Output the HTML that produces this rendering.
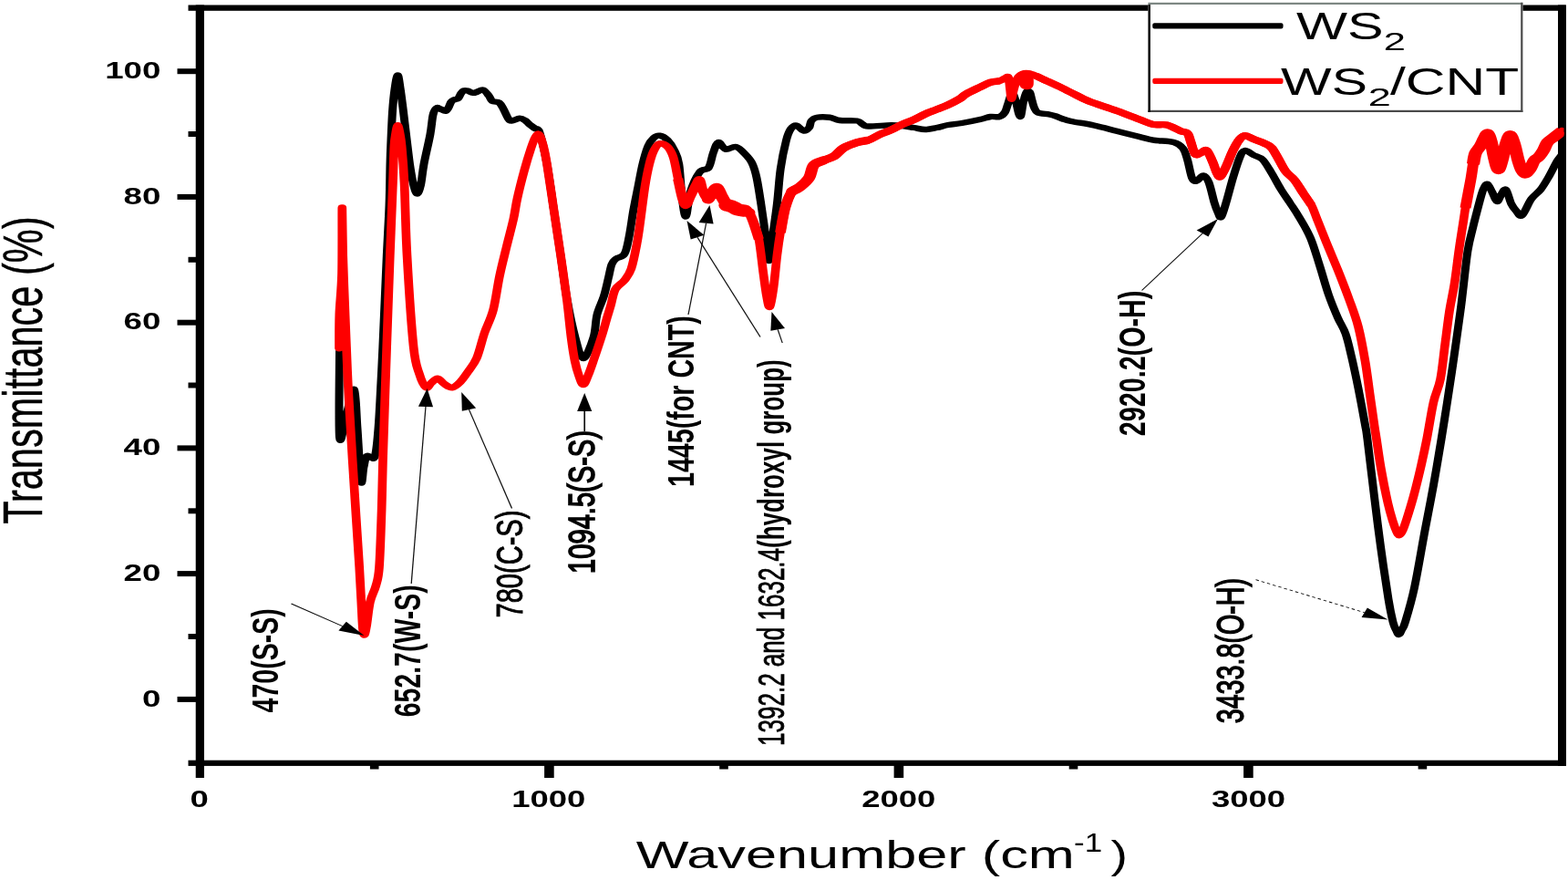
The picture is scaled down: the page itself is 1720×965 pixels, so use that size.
<!DOCTYPE html>
<html lang="en">
<head>
<meta charset="utf-8">
<title>FTIR spectra of WS2 and WS2/CNT</title>
<style>html,body{margin:0;padding:0;background:#fff;}body{width:1720px;height:965px;overflow:hidden;}svg{display:block;}</style>
</head>
<body>
<svg width="1720" height="965" viewBox="0 0 1720 965" role="img" aria-label="FTIR transmittance spectra of WS2 and WS2/CNT">
<rect x="0" y="0" width="1720" height="965" fill="#fff"/>
<g fill="#000">
<rect x="214.7" y="5.5" width="9.2" height="847.5"/>
<rect x="206.5" y="5.5" width="1511" height="6.3"/>
<rect x="206.5" y="833.7" width="1511" height="6.2"/>
<rect x="1709" y="5.5" width="9" height="834.4"/>
<rect x="194.5" y="75.2" width="21" height="6.0"/>
<rect x="194.5" y="212.9" width="21" height="6.0"/>
<rect x="194.5" y="350.7" width="21" height="6.0"/>
<rect x="194.5" y="488.4" width="21" height="6.0"/>
<rect x="194.5" y="626.1" width="21" height="6.0"/>
<rect x="194.5" y="763.9" width="21" height="6.0"/>
<rect x="206.5" y="144.0" width="9" height="6.0"/>
<rect x="206.5" y="281.8" width="9" height="6.0"/>
<rect x="206.5" y="419.5" width="9" height="6.0"/>
<rect x="206.5" y="557.3" width="9" height="6.0"/>
<rect x="206.5" y="695.0" width="9" height="6.0"/>
<rect x="597.1" y="838" width="10.6" height="15"/>
<rect x="980.6" y="838" width="10.6" height="15"/>
<rect x="1364.1" y="838" width="10.6" height="15"/>
<rect x="405.9" y="838" width="9.6" height="5.5"/>
<rect x="789.2" y="838" width="9.6" height="5.5"/>
<rect x="1172.7" y="838" width="9.6" height="5.5"/>
<rect x="1555.6" y="838" width="9.6" height="5.5"/>
</g>
<defs><clipPath id="plotclip"><rect x="214" y="5" width="1501.5" height="835"/></clipPath></defs>
<g clip-path="url(#plotclip)"><g transform="scale(1.4 1)" fill="none" stroke-linejoin="round" stroke-linecap="round">
<path d="M266.07 385.00C266.07 400.83 265.18 468.33 266.07 480.00C266.96 491.67 269.52 463.83 271.43 455.00C273.33 446.17 276.07 424.50 277.50 427.00C278.93 429.50 279.11 453.17 280.00 470.00C280.89 486.83 282.02 521.00 282.86 528.00C283.69 535.00 284.23 516.67 285.00 512.00C285.77 507.33 286.07 501.83 287.50 500.00C288.93 498.17 292.08 506.00 293.57 501.00C295.06 496.00 295.61 483.50 296.43 470.00C297.25 456.50 297.92 435.00 298.50 420.00C299.08 405.00 299.17 403.33 299.93 380.00C300.69 356.67 302.23 305.83 303.07 280.00C303.92 254.17 304.56 241.67 305.00 225.00C305.44 208.33 305.51 190.83 305.71 180.00C305.92 169.17 305.92 169.58 306.21 160.00C306.51 150.42 306.99 132.92 307.50 122.50C308.01 112.08 308.60 104.17 309.29 97.50C309.97 90.83 310.87 82.50 311.61 82.50C312.35 82.50 312.97 90.83 313.71 97.50C314.46 104.17 315.14 112.08 316.07 122.50C317.00 132.92 318.45 150.42 319.29 160.00C320.12 169.58 320.36 173.33 321.07 180.00C321.79 186.67 322.64 194.58 323.57 200.00C324.50 205.42 325.63 212.00 326.64 212.50C327.65 213.00 328.73 208.42 329.64 203.00C330.56 197.58 330.90 189.25 332.14 180.00C333.38 170.75 335.88 156.50 337.07 147.50C338.26 138.50 338.47 130.83 339.29 126.00C340.10 121.17 341.01 119.58 341.96 118.50C342.92 117.42 343.81 118.93 345.00 119.50C346.19 120.07 348.04 122.15 349.11 121.90C350.18 121.65 350.68 119.73 351.43 118.00C352.17 116.27 352.80 112.97 353.57 111.50C354.35 110.03 355.18 109.78 356.07 109.20C356.96 108.62 358.08 109.12 358.93 108.00C359.77 106.88 360.40 103.93 361.14 102.50C361.89 101.07 362.51 99.88 363.39 99.40C364.27 98.92 365.24 99.18 366.43 99.60C367.62 100.02 369.23 101.75 370.54 101.90C371.85 102.05 372.95 101.07 374.29 100.50C375.63 99.93 377.11 97.75 378.57 98.50C380.03 99.25 381.85 102.92 383.04 105.00C384.23 107.08 384.38 109.75 385.71 111.00C387.05 112.25 389.58 111.00 391.07 112.50C392.56 114.00 393.45 117.08 394.64 120.00C395.83 122.92 397.17 127.92 398.21 130.00C399.26 132.08 399.40 132.53 400.89 132.50C402.38 132.47 405.39 129.88 407.14 129.80C408.90 129.72 410.12 130.87 411.43 132.00C412.74 133.13 413.69 135.10 415.00 136.60C416.31 138.10 417.98 139.53 419.29 141.00C420.60 142.47 421.31 138.90 422.86 145.40C424.40 151.90 426.73 165.90 428.57 180.00C430.42 194.10 432.14 213.33 433.93 230.00C435.71 246.67 437.56 263.67 439.29 280.00C441.01 296.33 442.38 313.00 444.29 328.00C446.19 343.00 448.60 359.17 450.71 370.00C452.83 380.83 454.62 393.00 457.00 393.00C459.38 393.00 463.19 378.03 465.00 370.00C466.81 361.97 466.50 352.33 467.86 344.80C469.21 337.27 471.67 331.47 473.14 324.80C474.62 318.13 475.69 310.63 476.71 304.80C477.74 298.97 478.26 293.33 479.29 289.80C480.31 286.27 481.19 285.47 482.86 283.60C484.52 281.73 487.62 282.53 489.29 278.60C490.95 274.67 491.68 268.10 492.86 260.00C494.04 251.90 495.18 239.17 496.36 230.00C497.54 220.83 498.74 213.33 499.93 205.00C501.12 196.67 502.18 187.50 503.50 180.00C504.82 172.50 506.38 164.83 507.86 160.00C509.33 155.17 510.86 152.88 512.36 151.00C513.86 149.12 515.07 148.25 516.86 148.70C518.64 149.15 521.14 150.98 523.07 153.70C525.00 156.42 526.94 160.62 528.43 165.00C529.92 169.38 531.02 171.67 532.00 180.00C532.98 188.33 533.39 205.43 534.29 215.00C535.18 224.57 536.23 238.23 537.36 237.40C538.49 236.57 539.26 218.12 541.07 210.00C542.88 201.88 545.85 193.08 548.21 188.70C550.58 184.32 553.51 187.23 555.29 183.70C557.06 180.17 557.60 172.12 558.86 167.50C560.12 162.88 561.24 156.63 562.86 156.00C564.48 155.37 566.26 162.87 568.57 163.70C570.88 164.53 574.17 160.12 576.71 161.00C579.26 161.88 581.76 166.00 583.86 169.00C585.95 172.00 587.79 174.67 589.29 179.00C590.79 183.33 591.67 187.33 592.86 195.00C594.05 202.67 595.24 214.17 596.43 225.00C597.62 235.83 598.98 249.83 600.00 260.00C601.02 270.17 601.69 286.00 602.57 286.00C603.45 286.00 604.23 270.58 605.29 260.00C606.35 249.42 607.88 235.00 608.93 222.50C609.98 210.00 610.42 196.46 611.61 185.00C612.80 173.54 614.73 161.04 616.07 153.75C617.41 146.46 618.30 143.96 619.64 141.25C620.98 138.54 622.47 137.12 624.11 137.50C625.74 137.88 627.83 143.08 629.46 143.50C631.10 143.92 632.89 141.83 633.93 140.00C634.97 138.17 634.67 134.38 635.71 132.50C636.76 130.62 637.80 129.38 640.18 128.75C642.56 128.12 647.02 128.21 650.00 128.75C652.98 129.29 654.46 131.38 658.04 132.00C661.61 132.62 668.45 131.79 671.43 132.50C674.40 133.21 674.40 135.25 675.89 136.25C677.38 137.25 676.64 138.34 680.36 138.50C684.08 138.66 693.75 137.28 698.21 137.20C702.68 137.12 704.17 137.53 707.14 138.00C710.12 138.47 713.10 139.33 716.07 140.00C719.05 140.67 722.02 142.00 725.00 142.00C727.98 142.00 730.95 140.83 733.93 140.00C736.90 139.17 739.58 137.83 742.86 137.00C746.13 136.17 749.40 136.00 753.57 135.00C757.74 134.00 764.11 132.17 767.86 131.00C771.61 129.83 773.52 128.50 776.07 128.00C778.62 127.50 781.25 128.83 783.14 128.00C785.04 127.17 786.35 125.25 787.43 123.00C788.51 120.75 788.74 118.00 789.64 114.50C790.55 111.00 791.85 102.75 792.86 102.00C793.87 101.25 794.64 105.67 795.71 110.00C796.79 114.33 798.27 127.67 799.29 128.00C800.30 128.33 800.95 116.50 801.79 112.00C802.62 107.50 803.45 102.83 804.29 101.00C805.12 99.17 806.07 99.50 806.79 101.00C807.50 102.50 807.98 107.17 808.57 110.00C809.17 112.83 809.58 115.75 810.36 118.00C811.13 120.25 811.25 122.25 813.21 123.50C815.18 124.75 819.76 124.83 822.14 125.50C824.52 126.17 825.71 126.67 827.50 127.50C829.29 128.33 830.89 129.58 832.86 130.50C834.82 131.42 835.24 131.83 839.29 133.00C843.33 134.17 851.19 135.72 857.14 137.50C863.10 139.28 869.05 141.62 875.00 143.70C880.95 145.78 888.10 148.33 892.86 150.00C897.62 151.67 899.11 152.70 903.57 153.70C908.04 154.70 915.77 154.53 919.64 156.00C923.51 157.47 925.00 159.33 926.79 162.50C928.57 165.67 929.17 169.58 930.36 175.00C931.55 180.42 932.74 191.05 933.93 195.00C935.12 198.95 936.01 199.12 937.50 198.70C938.99 198.28 941.25 192.28 942.86 192.50C944.46 192.72 945.71 195.08 947.14 200.00C948.57 204.92 950.24 216.50 951.43 222.00C952.62 227.50 953.39 230.33 954.29 233.00C955.18 235.67 955.71 239.83 956.79 238.00C957.86 236.17 959.17 229.17 960.71 222.00C962.26 214.83 964.29 203.25 966.07 195.00C967.86 186.75 969.88 177.50 971.43 172.50C972.98 167.50 973.57 165.42 975.36 165.00C977.14 164.58 979.82 168.33 982.14 170.00C984.46 171.67 986.90 171.67 989.29 175.00C991.67 178.33 994.05 184.58 996.43 190.00C998.81 195.42 1001.19 202.08 1003.57 207.50C1005.95 212.92 1008.33 217.42 1010.71 222.50C1013.10 227.58 1015.18 231.58 1017.86 238.00C1020.54 244.42 1024.11 252.17 1026.79 261.00C1029.46 269.83 1031.55 280.58 1033.93 291.00C1036.31 301.42 1038.69 313.92 1041.07 323.50C1043.45 333.08 1046.01 341.42 1048.21 348.50C1050.42 355.58 1052.50 358.92 1054.29 366.00C1056.07 373.08 1057.26 381.00 1058.93 391.00C1060.60 401.00 1062.50 413.50 1064.29 426.00C1066.07 438.50 1068.45 456.67 1069.64 466.00C1070.83 475.33 1070.24 468.92 1071.43 482.00C1072.62 495.08 1075.06 524.92 1076.79 544.50C1078.51 564.08 1079.94 580.75 1081.79 599.50C1083.63 618.25 1086.25 643.25 1087.86 657.00C1089.46 670.75 1090.42 676.33 1091.43 682.00C1092.44 687.67 1093.15 688.67 1093.93 691.00C1094.70 693.33 1095.36 696.00 1096.07 696.00C1096.79 696.00 1097.38 693.33 1098.21 691.00C1099.05 688.67 1099.40 689.75 1101.07 682.00C1102.74 674.25 1105.65 661.17 1108.21 644.50C1110.77 627.83 1113.93 600.75 1116.43 582.00C1118.93 563.25 1121.07 548.67 1123.21 532.00C1125.36 515.33 1127.50 497.17 1129.29 482.00C1131.07 466.83 1132.26 456.17 1133.93 441.00C1135.60 425.83 1137.56 407.67 1139.29 391.00C1141.01 374.33 1143.14 352.83 1144.29 341.00C1145.43 329.17 1145.19 331.00 1146.14 320.00C1147.10 309.00 1148.69 286.67 1150.00 275.00C1151.31 263.33 1152.96 256.25 1154.00 250.00C1155.04 243.75 1155.05 243.75 1156.21 237.50C1157.38 231.25 1159.82 218.00 1161.00 212.50C1162.18 207.00 1162.52 206.25 1163.29 204.50C1164.05 202.75 1164.57 200.92 1165.57 202.00C1166.57 203.08 1168.05 207.85 1169.29 211.00C1170.52 214.15 1171.81 220.57 1173.00 220.90C1174.19 221.23 1175.27 215.17 1176.43 213.00C1177.58 210.83 1178.65 206.17 1179.93 207.90C1181.20 209.63 1182.75 219.55 1184.07 223.40C1185.39 227.25 1186.46 228.83 1187.86 231.00C1189.25 233.17 1190.44 238.52 1192.43 236.40C1194.42 234.28 1197.33 223.05 1199.79 218.30C1202.24 213.55 1204.85 212.00 1207.14 207.90C1209.44 203.80 1211.43 198.88 1213.57 193.70C1215.71 188.52 1218.33 180.75 1220.00 176.80C1221.67 172.85 1222.98 171.13 1223.57 170.00" stroke="#000" stroke-width="6.4"/>
<path d="M265.71 382.00C265.75 375.83 265.57 358.67 265.93 345.00C266.29 331.33 267.50 319.50 267.86 300.00C268.21 280.50 267.93 231.33 268.07 228.00C268.21 224.67 268.39 263.00 268.71 280.00C269.04 297.00 269.55 313.33 270.00 330.00C270.45 346.67 270.99 365.00 271.43 380.00C271.87 395.00 272.17 406.67 272.64 420.00C273.12 433.33 273.69 445.83 274.29 460.00C274.88 474.17 275.44 487.50 276.21 505.00C276.99 522.50 278.04 545.50 278.93 565.00C279.82 584.50 280.88 606.17 281.57 622.00C282.26 637.83 282.62 648.67 283.07 660.00C283.52 671.33 283.85 684.00 284.29 690.00C284.73 696.00 285.20 696.83 285.71 696.00C286.23 695.17 286.64 691.00 287.36 685.00C288.07 679.00 288.81 667.10 290.00 660.00C291.19 652.90 293.31 648.73 294.50 642.40C295.69 636.07 296.39 635.73 297.14 622.00C297.89 608.27 298.52 579.50 299.00 560.00C299.48 540.50 299.33 535.00 300.00 505.00C300.67 475.00 302.07 417.50 303.00 380.00C303.93 342.50 304.76 310.00 305.57 280.00C306.38 250.00 307.31 220.00 307.86 200.00C308.40 180.00 308.46 169.17 308.86 160.00C309.25 150.83 309.75 148.75 310.21 145.00C310.68 141.25 311.15 137.50 311.64 137.50C312.13 137.50 312.63 141.25 313.14 145.00C313.65 148.75 314.11 150.83 314.71 160.00C315.32 169.17 316.08 180.00 316.79 200.00C317.49 220.00 317.73 250.00 318.93 280.00C320.13 310.00 322.39 358.33 324.00 380.00C325.61 401.67 326.93 402.50 328.57 410.00C330.21 417.50 332.31 423.33 333.86 425.00C335.40 426.67 336.36 421.67 337.86 420.00C339.36 418.33 341.14 414.83 342.86 415.00C344.57 415.17 346.24 419.33 348.14 421.00C350.05 422.67 352.19 425.38 354.29 425.00C356.38 424.62 358.63 421.62 360.71 418.70C362.80 415.78 364.64 411.87 366.79 407.50C368.93 403.13 371.43 399.58 373.57 392.50C375.71 385.42 377.50 373.75 379.64 365.00C381.79 356.25 384.46 350.38 386.43 340.00C388.39 329.62 389.67 314.37 391.43 302.70C393.19 291.03 395.18 280.45 397.00 270.00C398.82 259.55 400.96 248.77 402.36 240.00C403.75 231.23 403.96 226.17 405.36 217.40C406.75 208.63 408.93 196.55 410.71 187.40C412.50 178.25 414.58 168.73 416.07 162.50C417.56 156.27 418.57 152.50 419.64 150.00C420.71 147.50 421.49 145.83 422.50 147.50C423.51 149.17 424.70 154.58 425.71 160.00C426.73 165.42 427.20 168.33 428.57 180.00C429.94 191.67 432.14 213.33 433.93 230.00C435.71 246.67 437.56 263.33 439.29 280.00C441.01 296.67 442.92 315.00 444.29 330.00C445.65 345.00 446.49 359.08 447.50 370.00C448.51 380.92 449.35 388.50 450.36 395.50C451.37 402.50 452.46 407.62 453.57 412.00C454.68 416.38 455.81 421.80 457.00 421.80C458.19 421.80 459.38 416.38 460.71 412.00C462.05 407.62 463.10 403.27 465.00 395.50C466.90 387.73 470.36 373.32 472.14 365.40C473.93 357.48 474.64 353.10 475.71 348.00C476.79 342.90 477.50 339.92 478.57 334.80C479.64 329.68 480.36 321.88 482.14 317.30C483.93 312.72 487.21 311.05 489.29 307.30C491.36 303.55 492.95 301.45 494.57 294.80C496.19 288.15 497.81 276.13 499.00 267.40C500.19 258.67 500.67 252.80 501.71 242.40C502.76 232.00 504.11 215.40 505.29 205.00C506.46 194.60 507.61 186.67 508.79 180.00C509.96 173.33 511.01 168.75 512.36 165.00C513.70 161.25 515.07 158.17 516.86 157.50C518.64 156.83 521.29 158.50 523.07 161.00C524.86 163.50 526.21 166.67 527.57 172.50C528.93 178.33 530.01 188.42 531.21 196.00C532.42 203.58 533.74 213.17 534.79 218.00C535.83 222.83 536.45 225.50 537.50 225.00C538.55 224.50 539.74 218.77 541.07 215.00C542.40 211.23 544.31 205.33 545.50 202.40C546.69 199.47 547.32 196.13 548.21 197.40C549.11 198.67 549.75 206.48 550.86 210.00C551.96 213.52 553.63 218.33 554.86 218.50C556.08 218.67 557.05 213.08 558.21 211.00C559.38 208.92 560.61 205.17 561.86 206.00C563.11 206.83 564.38 212.83 565.71 216.00C567.05 219.17 568.43 223.17 569.86 225.00C571.29 226.83 572.85 226.17 574.29 227.00C575.73 227.83 577.07 229.33 578.50 230.00C579.93 230.67 581.48 230.50 582.86 231.00C584.24 231.50 585.51 230.73 586.79 233.00C588.06 235.27 589.20 239.70 590.50 244.60C591.80 249.50 593.30 253.17 594.57 262.40C595.85 271.63 597.12 289.60 598.14 300.00C599.17 310.40 599.88 318.72 600.71 324.80C601.55 330.88 602.24 338.17 603.14 336.50C604.05 334.83 605.19 324.22 606.14 314.80C607.10 305.38 607.98 289.97 608.86 280.00C609.74 270.03 610.38 263.67 611.43 255.00C612.48 246.33 613.66 235.50 615.18 228.00C616.70 220.50 618.60 213.83 620.54 210.00C622.47 206.17 624.55 207.50 626.79 205.00C629.02 202.50 632.14 198.96 633.93 195.00C635.71 191.04 635.71 184.38 637.50 181.25C639.29 178.12 641.96 177.92 644.64 176.25C647.32 174.58 650.89 173.54 653.57 171.25C656.25 168.96 657.74 165.00 660.71 162.50C663.69 160.00 668.15 157.71 671.43 156.25C674.70 154.79 677.38 155.21 680.36 153.75C683.33 152.29 686.31 149.38 689.29 147.50C692.26 145.62 695.24 144.38 698.21 142.50C701.19 140.62 704.17 138.12 707.14 136.25C710.12 134.38 713.10 133.12 716.07 131.25C719.05 129.38 722.02 126.88 725.00 125.00C727.98 123.12 730.95 121.67 733.93 120.00C736.90 118.33 739.88 116.92 742.86 115.00C745.83 113.08 749.40 110.50 751.79 108.50C754.17 106.50 754.46 105.15 757.14 103.00C759.82 100.85 764.70 97.72 767.86 95.60C771.01 93.48 773.52 91.43 776.07 90.30C778.62 89.17 781.25 89.55 783.14 88.80C785.04 88.05 786.26 86.43 787.43 85.80C788.60 85.17 789.48 82.97 790.14 85.00C790.81 87.03 791.04 94.08 791.43 98.00C791.82 101.92 792.02 108.50 792.50 108.50C792.98 108.50 793.51 101.75 794.29 98.00C795.06 94.25 795.95 88.83 797.14 86.00C798.33 83.17 800.00 81.92 801.43 81.00C802.86 80.08 804.05 80.17 805.71 80.50C807.38 80.83 809.61 82.00 811.43 83.00C813.25 84.00 813.07 84.17 816.64 86.50C820.21 88.83 827.44 93.33 832.86 97.00C838.27 100.67 845.10 105.83 849.14 108.50C853.19 111.17 852.83 110.83 857.14 113.00C861.45 115.17 869.05 118.50 875.00 121.50C880.95 124.50 888.10 128.50 892.86 131.00C897.62 133.50 900.00 135.50 903.57 136.50C907.14 137.50 910.71 135.80 914.29 137.00C917.86 138.20 922.32 142.20 925.00 143.70C927.68 145.20 929.05 144.12 930.36 146.00C931.67 147.88 931.85 151.17 932.86 155.00C933.87 158.83 935.06 166.92 936.43 169.00C937.80 171.08 939.56 168.17 941.07 167.50C942.58 166.83 944.01 163.42 945.50 165.00C946.99 166.58 948.65 172.83 950.00 177.00C951.35 181.17 952.54 187.22 953.57 190.00C954.61 192.78 955.02 194.95 956.21 193.70C957.40 192.45 959.07 187.28 960.71 182.50C962.36 177.72 964.29 170.00 966.07 165.00C967.86 160.00 969.82 155.22 971.43 152.50C973.04 149.78 973.93 148.70 975.71 148.70C977.50 148.70 978.99 150.62 982.14 152.50C985.30 154.38 991.67 157.08 994.64 160.00C997.62 162.92 997.92 165.42 1000.00 170.00C1002.08 174.58 1004.76 182.92 1007.14 187.50C1009.52 192.08 1011.90 193.33 1014.29 197.50C1016.67 201.67 1019.23 207.92 1021.43 212.50C1023.63 217.08 1025.71 220.25 1027.50 225.00C1029.29 229.75 1030.18 234.17 1032.14 241.00C1034.11 247.83 1036.61 256.83 1039.29 266.00C1041.96 275.17 1045.24 285.58 1048.21 296.00C1051.19 306.42 1054.46 318.08 1057.14 328.50C1059.82 338.92 1062.20 347.25 1064.29 358.50C1066.37 369.75 1068.15 383.92 1069.64 396.00C1071.13 408.08 1072.02 419.33 1073.21 431.00C1074.40 442.67 1075.89 457.50 1076.79 466.00C1077.68 474.50 1077.68 473.92 1078.57 482.00C1079.46 490.08 1080.65 502.83 1082.14 514.50C1083.63 526.17 1085.95 542.42 1087.50 552.00C1089.05 561.58 1090.30 566.83 1091.43 572.00C1092.56 577.17 1093.45 580.50 1094.29 583.00C1095.12 585.50 1095.65 587.17 1096.43 587.00C1097.20 586.83 1097.98 584.92 1098.93 582.00C1099.88 579.08 1100.71 575.75 1102.14 569.50C1103.57 563.25 1105.71 553.67 1107.50 544.50C1109.29 535.33 1111.13 524.92 1112.86 514.50C1114.58 504.08 1116.13 494.25 1117.86 482.00C1119.58 469.75 1121.43 452.00 1123.21 441.00C1125.00 430.00 1127.08 426.42 1128.57 416.00C1130.06 405.58 1130.95 391.00 1132.14 378.50C1133.33 366.00 1134.46 352.25 1135.71 341.00C1136.96 329.75 1138.39 322.25 1139.64 311.00C1140.89 299.75 1142.02 285.17 1143.21 273.50C1144.40 261.83 1145.95 248.58 1146.79 241.00C1147.62 233.42 1147.62 232.83 1148.21 228.00C1148.81 223.17 1149.62 217.50 1150.36 212.00C1151.10 206.50 1151.99 200.33 1152.64 195.00C1153.30 189.67 1153.71 184.50 1154.29 180.00C1154.86 175.50 1155.12 171.33 1156.07 168.00C1157.02 164.67 1158.87 162.67 1160.00 160.00C1161.13 157.33 1161.93 154.25 1162.86 152.00C1163.79 149.75 1164.68 146.00 1165.57 146.50C1166.46 147.00 1167.30 150.42 1168.21 155.00C1169.13 159.58 1170.12 168.83 1171.07 174.00C1172.02 179.17 1172.98 185.67 1173.93 186.00C1174.88 186.33 1175.77 180.67 1176.79 176.00C1177.80 171.33 1178.93 162.67 1180.00 158.00C1181.07 153.33 1182.14 148.00 1183.21 148.00C1184.29 148.00 1185.36 153.33 1186.43 158.00C1187.50 162.67 1188.63 171.17 1189.64 176.00C1190.65 180.83 1191.55 184.58 1192.50 187.00C1193.45 189.42 1194.29 190.83 1195.36 190.50C1196.43 190.17 1197.80 187.42 1198.93 185.00C1200.06 182.58 1201.01 178.17 1202.14 176.00C1203.27 173.83 1204.52 173.83 1205.71 172.00C1206.90 170.17 1208.15 167.67 1209.29 165.00C1210.42 162.33 1211.14 158.42 1212.50 156.00C1213.86 153.58 1215.54 152.58 1217.43 150.50C1219.32 148.42 1222.79 144.67 1223.86 143.50" stroke="#fe0000" stroke-width="6.9"/>
<path d="M531.21 196.00C531.81 199.67 533.74 213.17 534.79 218.00C535.83 222.83 536.45 225.50 537.50 225.00C538.55 224.50 539.74 218.77 541.07 215.00C542.40 211.23 544.31 205.33 545.50 202.40C546.69 199.47 547.32 196.13 548.21 197.40C549.11 198.67 549.75 206.48 550.86 210.00C551.96 213.52 553.63 218.33 554.86 218.50C556.08 218.67 557.05 213.08 558.21 211.00C559.38 208.92 560.61 205.17 561.86 206.00C563.11 206.83 564.38 212.83 565.71 216.00C567.05 219.17 568.43 223.17 569.86 225.00C571.29 226.83 572.85 226.17 574.29 227.00C575.73 227.83 577.07 229.33 578.50 230.00C579.93 230.67 581.48 230.50 582.86 231.00C584.24 231.50 585.51 230.73 586.79 233.00C588.06 235.27 589.20 239.70 590.50 244.60C591.80 249.50 593.89 259.43 594.57 262.40" stroke="#fe0000" stroke-width="8.0" stroke-linecap="butt"/>
<path d="M554.86 218.50C555.42 217.25 557.05 213.08 558.21 211.00C559.38 208.92 560.61 205.17 561.86 206.00C563.11 206.83 564.38 212.83 565.71 216.00C567.05 219.17 568.43 223.17 569.86 225.00C571.29 226.83 572.85 226.17 574.29 227.00C575.73 227.83 577.07 229.33 578.50 230.00C579.93 230.67 581.48 230.50 582.86 231.00C584.24 231.50 586.13 232.67 586.79 233.00" stroke="#fe0000" stroke-width="10"/>
<path d="M569.86 225.00C570.60 225.33 572.85 226.17 574.29 227.00C575.73 227.83 577.07 229.33 578.50 230.00C579.93 230.67 582.13 230.83 582.86 231.00" stroke="#fe0000" stroke-width="13.5"/>
<path d="M611.43 255.00C612.05 250.50 613.66 235.50 615.18 228.00C616.70 220.50 618.60 213.83 620.54 210.00C622.47 206.17 624.55 207.50 626.79 205.00C629.02 202.50 632.14 198.96 633.93 195.00C635.71 191.04 635.71 184.38 637.50 181.25C639.29 178.12 641.96 177.92 644.64 176.25C647.32 174.58 650.89 173.54 653.57 171.25C656.25 168.96 657.74 165.00 660.71 162.50C663.69 160.00 668.15 157.71 671.43 156.25C674.70 154.79 678.87 154.17 680.36 153.75" stroke="#fe0000" stroke-width="8.4" stroke-linecap="butt"/>
<path d="M620.54 210.00C621.58 209.17 624.55 207.50 626.79 205.00C629.02 202.50 632.14 198.96 633.93 195.00C635.71 191.04 635.71 184.38 637.50 181.25C639.29 178.12 643.45 177.08 644.64 176.25" stroke="#fe0000" stroke-width="9.4"/>
<path d="M611.43 255.00C612.05 250.50 613.66 235.50 615.18 228.00C616.70 220.50 618.60 213.83 620.54 210.00C622.47 206.17 624.55 207.50 626.79 205.00C629.02 202.50 632.14 198.96 633.93 195.00C635.71 191.04 635.71 184.38 637.50 181.25C639.29 178.12 641.96 177.92 644.64 176.25C647.32 174.58 650.89 173.54 653.57 171.25C656.25 168.96 657.74 165.00 660.71 162.50C663.69 160.00 668.15 157.71 671.43 156.25C674.70 154.79 677.38 155.21 680.36 153.75C683.33 152.29 686.31 149.38 689.29 147.50C692.26 145.62 695.24 144.38 698.21 142.50C701.19 140.62 704.17 138.12 707.14 136.25C710.12 134.38 713.10 133.12 716.07 131.25C719.05 129.38 722.02 126.88 725.00 125.00C727.98 123.12 730.95 121.67 733.93 120.00C736.90 118.33 739.88 116.92 742.86 115.00C745.83 113.08 749.40 110.50 751.79 108.50C754.17 106.50 754.46 105.15 757.14 103.00C759.82 100.85 764.70 97.72 767.86 95.60C771.01 93.48 773.52 91.43 776.07 90.30C778.62 89.17 781.96 89.05 783.14 88.80" stroke="#fe0000" stroke-width="7.7" stroke-linecap="butt"/>
<path d="M796.43 90.00C796.90 89.00 798.21 85.17 799.29 84.00C800.36 82.83 802.26 81.50 802.86 83.00C803.45 84.50 802.38 91.33 802.86 93.00C803.33 94.67 805.24 94.50 805.71 93.00C806.19 91.50 805.71 85.50 805.71 84.00" stroke="#fe0000" stroke-width="8"/>
<path d="M811.43 83.00C812.30 83.58 813.07 84.17 816.64 86.50C820.21 88.83 827.44 93.33 832.86 97.00C838.27 100.67 845.10 105.83 849.14 108.50C853.19 111.17 852.83 110.83 857.14 113.00C861.45 115.17 869.05 118.50 875.00 121.50C880.95 124.50 888.10 128.50 892.86 131.00C897.62 133.50 900.00 135.50 903.57 136.50C907.14 137.50 910.71 135.80 914.29 137.00C917.86 138.20 922.32 142.20 925.00 143.70C927.68 145.20 929.05 144.12 930.36 146.00C931.67 147.88 931.85 151.17 932.86 155.00C933.87 158.83 935.06 166.92 936.43 169.00C937.80 171.08 939.56 168.17 941.07 167.50C942.58 166.83 944.01 163.42 945.50 165.00C946.99 166.58 948.65 172.83 950.00 177.00C951.35 181.17 952.54 187.22 953.57 190.00C954.61 192.78 955.02 194.95 956.21 193.70C957.40 192.45 959.07 187.28 960.71 182.50C962.36 177.72 964.29 170.00 966.07 165.00C967.86 160.00 969.82 155.22 971.43 152.50C973.04 149.78 973.93 148.70 975.71 148.70C977.50 148.70 978.99 150.62 982.14 152.50C985.30 154.38 991.67 157.08 994.64 160.00C997.62 162.92 997.92 165.42 1000.00 170.00C1002.08 174.58 1004.76 182.92 1007.14 187.50C1009.52 192.08 1011.90 193.33 1014.29 197.50C1016.67 201.67 1019.23 207.92 1021.43 212.50C1023.63 217.08 1026.49 222.92 1027.50 225.00" stroke="#fe0000" stroke-width="7.4" stroke-linecap="butt"/>
<path d="M1148.21 228.00C1148.57 225.33 1149.62 217.50 1150.36 212.00C1151.10 206.50 1151.99 200.33 1152.64 195.00C1153.30 189.67 1153.71 184.50 1154.29 180.00C1154.86 175.50 1155.12 171.33 1156.07 168.00C1157.02 164.67 1158.87 162.67 1160.00 160.00C1161.13 157.33 1161.93 154.25 1162.86 152.00C1163.79 149.75 1164.68 146.00 1165.57 146.50C1166.46 147.00 1167.30 150.42 1168.21 155.00C1169.13 159.58 1170.12 168.83 1171.07 174.00C1172.02 179.17 1172.98 185.67 1173.93 186.00C1174.88 186.33 1175.77 180.67 1176.79 176.00C1177.80 171.33 1178.93 162.67 1180.00 158.00C1181.07 153.33 1182.14 148.00 1183.21 148.00C1184.29 148.00 1185.36 153.33 1186.43 158.00C1187.50 162.67 1188.63 171.17 1189.64 176.00C1190.65 180.83 1191.55 184.58 1192.50 187.00C1193.45 189.42 1194.29 190.83 1195.36 190.50C1196.43 190.17 1197.80 187.42 1198.93 185.00C1200.06 182.58 1201.01 178.17 1202.14 176.00C1203.27 173.83 1204.52 173.83 1205.71 172.00C1206.90 170.17 1208.15 167.67 1209.29 165.00C1210.42 162.33 1211.14 158.42 1212.50 156.00C1213.86 153.58 1215.54 152.58 1217.43 150.50C1219.32 148.42 1222.79 144.67 1223.86 143.50" stroke="#fe0000" stroke-width="8.6" stroke-linecap="butt"/>
<path d="M1154.29 180.00C1154.58 178.00 1155.12 171.33 1156.07 168.00C1157.02 164.67 1158.87 162.67 1160.00 160.00C1161.13 157.33 1161.93 154.25 1162.86 152.00C1163.79 149.75 1164.68 146.00 1165.57 146.50C1166.46 147.00 1167.30 150.42 1168.21 155.00C1169.13 159.58 1170.12 168.83 1171.07 174.00C1172.02 179.17 1172.98 185.67 1173.93 186.00C1174.88 186.33 1175.77 180.67 1176.79 176.00C1177.80 171.33 1178.93 162.67 1180.00 158.00C1181.07 153.33 1182.14 148.00 1183.21 148.00C1184.29 148.00 1185.36 153.33 1186.43 158.00C1187.50 162.67 1188.63 171.17 1189.64 176.00C1190.65 180.83 1191.55 184.58 1192.50 187.00C1193.45 189.42 1194.29 190.83 1195.36 190.50C1196.43 190.17 1197.80 187.42 1198.93 185.00C1200.06 182.58 1201.01 178.17 1202.14 176.00C1203.27 173.83 1204.52 173.83 1205.71 172.00C1206.90 170.17 1208.15 167.67 1209.29 165.00C1210.42 162.33 1211.14 158.42 1212.50 156.00C1213.86 153.58 1215.54 152.58 1217.43 150.50C1219.32 148.42 1222.79 144.67 1223.86 143.50" stroke="#fe0000" stroke-width="10.2" stroke-linecap="butt"/>
</g></g>
<text transform="translate(115.13 85.80) scale(1.4000 1)" font-family="'Liberation Sans', sans-serif" font-size="26.2" font-weight="bold" fill="#000">100</text>
<text transform="translate(135.53 223.50) scale(1.4000 1)" font-family="'Liberation Sans', sans-serif" font-size="26.2" font-weight="bold" fill="#000">80</text>
<text transform="translate(135.53 361.30) scale(1.4000 1)" font-family="'Liberation Sans', sans-serif" font-size="26.2" font-weight="bold" fill="#000">60</text>
<text transform="translate(135.53 499.00) scale(1.4000 1)" font-family="'Liberation Sans', sans-serif" font-size="26.2" font-weight="bold" fill="#000">40</text>
<text transform="translate(135.53 636.70) scale(1.4000 1)" font-family="'Liberation Sans', sans-serif" font-size="26.2" font-weight="bold" fill="#000">20</text>
<text transform="translate(155.93 774.50) scale(1.4000 1)" font-family="'Liberation Sans', sans-serif" font-size="26.2" font-weight="bold" fill="#000">0</text>
<text transform="translate(208.57 884.50) scale(1.4150 1)" font-family="'Liberation Sans', sans-serif" font-size="25.8" font-weight="bold" fill="#000">0</text>
<text transform="translate(561.16 884.50) scale(1.4150 1)" font-family="'Liberation Sans', sans-serif" font-size="25.8" font-weight="bold" fill="#000">1000</text>
<text transform="translate(945.21 884.50) scale(1.4150 1)" font-family="'Liberation Sans', sans-serif" font-size="25.8" font-weight="bold" fill="#000">2000</text>
<text transform="translate(1328.89 884.50) scale(1.4150 1)" font-family="'Liberation Sans', sans-serif" font-size="25.8" font-weight="bold" fill="#000">3000</text>
<text transform="translate(697.75 952.20) scale(1.4586 1)" font-family="'Liberation Sans', sans-serif" font-size="42" font-weight="normal" fill="#000">Wavenumber (cm<tspan x="329.26" dy="-18.50" font-size="30" textLength="21.33" lengthAdjust="spacingAndGlyphs">-1</tspan><tspan x="357.01" dy="18.50" font-size="42" textLength="12.68" lengthAdjust="spacingAndGlyphs">)</tspan></text>
<text transform="translate(45.80 574.83) scale(1.4742 1) rotate(-90)" font-family="'Liberation Sans', sans-serif" font-size="41.49" font-weight="normal" fill="#000" stroke="#000" stroke-width="0.3">Transmittance (%)</text>
<rect x="1259.4" y="2.8" width="411" height="120.2" fill="#fff"/>
<rect x="1259.4" y="2.8" width="411" height="2.2" fill="#7d8783"/>
<rect x="1259.4" y="120.8" width="411" height="2.2" fill="#4a4a4a"/>
<rect x="1668.2" y="2.8" width="2.2" height="120.2" fill="#4a4a4a"/>
<rect x="1259.4" y="5" width="2.5" height="118" fill="#0a0a0a"/>
<rect x="1264.3" y="25.3" width="143.2" height="6.1" rx="2" fill="#000"/>
<rect x="1264.3" y="85.7" width="143.2" height="6.2" rx="2" fill="#fe0000"/>
<text transform="translate(1421.90 43.10) scale(1.4029 1)" font-family="'Liberation Sans', sans-serif" font-size="42.3" font-weight="normal" fill="#000">WS<tspan x="68.38" dy="11.90" font-size="27.7" textLength="17.24" lengthAdjust="spacingAndGlyphs">2</tspan></text>
<text transform="translate(1405.00 103.75) scale(1.4038 1)" font-family="'Liberation Sans', sans-serif" font-size="42.0" font-weight="normal" fill="#000">WS<tspan x="68.20" dy="11.85" font-size="27.7" textLength="17.87" lengthAdjust="spacingAndGlyphs">2</tspan><tspan x="85.48" dy="-11.85" font-size="42.0" textLength="100.63" lengthAdjust="spacingAndGlyphs">/CNT</tspan></text>
<text transform="translate(305.40 781.43) scale(1.4524 1) rotate(-90)" font-family="'Liberation Sans', sans-serif" font-size="28.54" font-weight="bold" fill="#000">470(S-S)</text>
<text transform="translate(461.20 786.30) scale(1.4560 1) rotate(-90)" font-family="'Liberation Sans', sans-serif" font-size="28.47" font-weight="bold" fill="#000">652.7(W-S)</text>
<text transform="translate(573.10 677.45) scale(1.4257 1) rotate(-90)" font-family="'Liberation Sans', sans-serif" font-size="29.07" font-weight="normal" fill="#000" stroke="#000" stroke-width="0.7">780(C-S)</text>
<text transform="translate(652.20 628.88) scale(1.4246 1) rotate(-90)" font-family="'Liberation Sans', sans-serif" font-size="29.10" font-weight="normal" fill="#000" stroke="#000" stroke-width="1.2">1094.5(S-S)</text>
<text transform="translate(761.20 534.02) scale(1.4464 1) rotate(-90)" font-family="'Liberation Sans', sans-serif" font-size="28.66" font-weight="bold" fill="#000">1445(for CNT)</text>
<text transform="translate(860.00 817.95) scale(1.5705 1) rotate(-90)" font-family="'Liberation Sans', sans-serif" font-size="26.02" font-weight="normal" fill="#000" stroke="#000" stroke-width="0.5">1392.2 and 1632.4<tspan font-weight="bold" stroke="none">(hydroxyl group)</tspan></text>
<text transform="translate(1256.20 478.16) scale(1.4439 1) rotate(-90)" font-family="'Liberation Sans', sans-serif" font-size="28.71" font-weight="bold" fill="#000">2920.2(O-H)</text>
<text transform="translate(1363.60 793.30) scale(1.4748 1) rotate(-90)" font-family="'Liberation Sans', sans-serif" font-size="28.69" font-weight="normal" fill="#000" stroke="#000" stroke-width="1.0">3433.8(O-H)</text>
<g transform="scale(1.4 1)"><line x1="228.21" y1="662.00" x2="268.30" y2="686.55" stroke="#111" stroke-width="0.9" /><polygon points="285.36,697.00 265.30,691.46 271.31,681.65" fill="#000"/></g>
<g transform="scale(1.4 1)"><line x1="322.29" y1="640.00" x2="333.55" y2="445.97" stroke="#111" stroke-width="0.9" /><polygon points="334.71,426.00 339.30,446.30 327.81,445.63" fill="#000"/></g>
<g transform="scale(1.4 1)"><line x1="401.07" y1="557.50" x2="367.49" y2="449.10" stroke="#111" stroke-width="0.9" /><polygon points="361.57,430.00 372.98,447.40 362.00,450.81" fill="#000"/></g>
<g transform="scale(1.4 1)"><line x1="458.00" y1="473.00" x2="458.00" y2="451.00" stroke="#111" stroke-width="1.2" /><polygon points="458.00,431.00 463.75,451.00 452.25,451.00" fill="#000"/></g>
<g transform="scale(1.4 1)"><line x1="539.29" y1="345.00" x2="553.30" y2="244.81" stroke="#111" stroke-width="0.9" /><polygon points="556.07,225.00 559.00,245.60 547.61,244.01" fill="#000"/></g>
<g transform="scale(1.4 1)"><line x1="595.71" y1="369.50" x2="546.44" y2="260.23" stroke="#111" stroke-width="0.9" /><polygon points="538.21,242.00 551.68,257.87 541.19,262.60" fill="#000"/></g>
<g transform="scale(1.4 1)"><line x1="613.00" y1="376.00" x2="609.42" y2="361.42" stroke="#111" stroke-width="0.9" /><polygon points="604.64,342.00 615.00,360.05 603.83,362.79" fill="#000"/></g>
<g transform="scale(1.4 1)"><line x1="894.64" y1="318.50" x2="942.19" y2="255.92" stroke="#111" stroke-width="0.9" /><polygon points="954.29,240.00 946.76,259.40 937.61,252.45" fill="#000"/></g>
<g transform="scale(1.4 1)"><line x1="983.93" y1="635.70" x2="1069.08" y2="671.71" stroke="#111" stroke-width="0.9" stroke-dasharray="2.6 2.2"/><polygon points="1087.50,679.50 1066.84,677.01 1071.32,666.41" fill="#000"/></g>
</svg>
</body>
</html>
